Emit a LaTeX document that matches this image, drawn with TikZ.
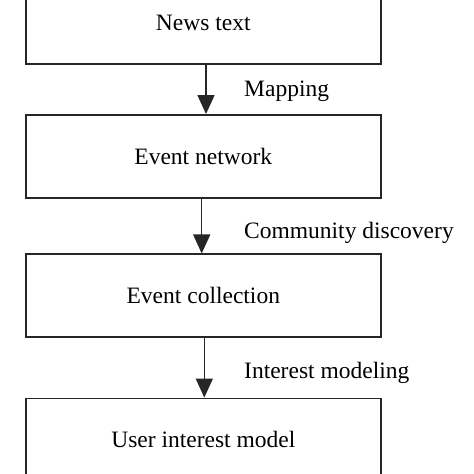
\documentclass[tikz,border=0pt]{standalone}
\usepackage{fontspec}
\setmainfont{Liberation Serif}
\usetikzlibrary{arrows.meta}
\begin{document}
\begin{tikzpicture}[x=1pt,y=-1pt,
  stepbox/.style={draw=black!85,line width=1.5pt,minimum width=355pt,minimum height=83pt,inner sep=0pt,font=\fontsize{23.5}{28}\selectfont},
  arr/.style={draw=black!85,line width=1.5pt,-{Triangle[length=19pt,width=17pt]}},
  lbl/.style={anchor=west,inner sep=0pt,font=\fontsize{23.5}{28}\selectfont}]
\useasboundingbox (0,0) rectangle (474,474);
\clip (0,0) rectangle (474,474);
\fill[white] (0,0) rectangle (474,474);
\node[stepbox] (b1) at (203.3,22.5) {News text};
\node[stepbox] (b2) at (203.3,156.3) {Event network};
\node[stepbox] (b3) at (203.3,295.7) {Event collection};
\node[stepbox] (b4) at (203.3,439.8) {User interest model};
\draw[arr] ([xshift=2.7pt]b1.south) -- ([xshift=2.7pt]b2.north);
\draw[arr] ([xshift=-1.6pt]b2.south) -- ([xshift=-1.6pt]b3.north);
\draw[arr] ([xshift=1pt]b3.south) -- ([xshift=1pt]b4.north);
\node[lbl] (l1) at (244,91) {Mapping};
\node[lbl] (l2) at (244,233) {Community discovery};
\node[lbl] (l3) at (244,373) {Interest modeling};
\end{tikzpicture}
\end{document}
